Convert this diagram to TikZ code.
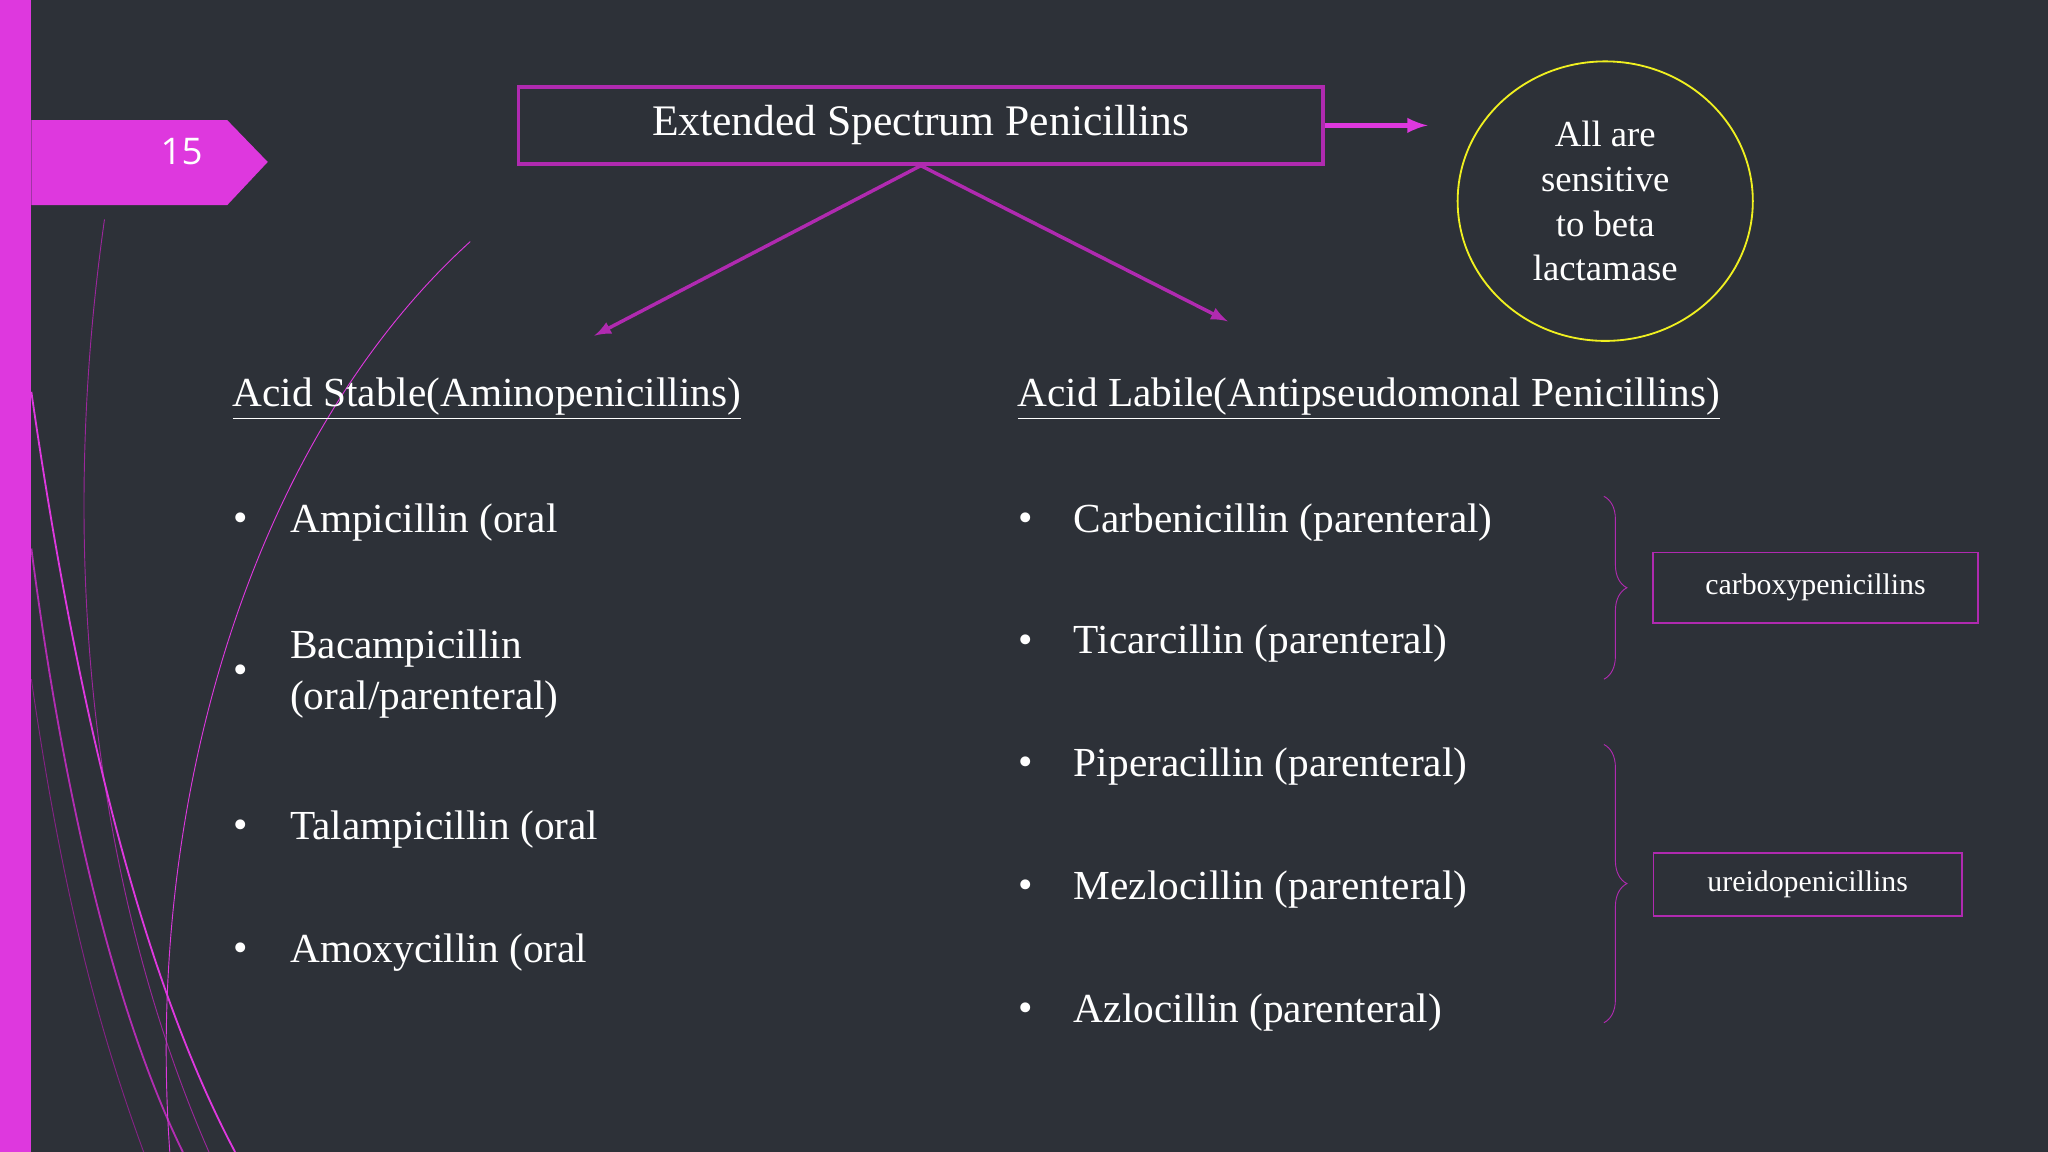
\documentclass[tikz,border=0pt]{standalone}
\usepackage{fontspec}
\setmainfont{Liberation Serif}
\setsansfont{Open Sans}
\usetikzlibrary{positioning}
\usetikzlibrary{shapes.geometric}
\usetikzlibrary{decorations.pathreplacing}
\definecolor{slate}{HTML}{2D3138}
\definecolor{pink}{HTML}{DE38DE}
\definecolor{plum}{HTML}{B02AB0}
\definecolor{lemon}{HTML}{F0F020}
\begin{document}
\begin{tikzpicture}[x=0.02cm,y=-0.02cm,
    every node/.style={text=white},
    item/.style={anchor=west,font=\fontsize{18}{22}\selectfont,align=left},
    dot/.style={anchor=center,font=\fontsize{18}{22}\selectfont},
    tagbox/.style={draw=plum,thick,font=\fontsize{13}{15}\selectfont,inner sep=6pt},
    brace/.style={draw=plum,thin,decorate,decoration={brace,amplitude=10pt}}]
\fill[slate] (0,0) rectangle (1568,882);
\useasboundingbox (0,0) rectangle (1568,882);

% left decoration
\draw[pink!70!black,thin] (80,168) .. controls (40,450) and (80,700) .. (160,882);
\draw[pink,thick] (24,300) .. controls (60,550) and (110,750) .. (180,882);
\draw[pink!80!black,thick] (24,420) .. controls (50,620) and (90,780) .. (140,882);
\draw[pink!60!black,thin] (24,520) .. controls (50,700) and (80,800) .. (110,882);
\draw[pink,thin] (360,185) .. controls (200,330) and (110,600) .. (130,882);
\fill[pink] (0,0) rectangle (24,882);
\fill[pink] (24,92) -- (174,92) -- (205,124) -- (174,157) -- (24,157) -- cycle;
\node[font=\sffamily\fontsize{16}{18}\selectfont] (num) at (139,116) {15};

% title and note
\node[draw=plum,line width=1.5pt,minimum width=616*0.02cm,minimum height=59*0.02cm,
  font=\fontsize{19}{22}\selectfont] (title) at (705,96) {Extended Spectrum Penicillins};
\node[draw=lemon,thick,ellipse,minimum width=226*0.02cm,minimum height=214*0.02cm,
  inner sep=0pt,align=center,font=\fontsize{16}{19.5}\selectfont] (note) at (1229,154)
  {All are\\sensitive\\to beta\\lactamase};
\draw[-latex,pink,line width=2pt] (title.east) -- (1093,96);
\coordinate (la) at (455,257);
\coordinate (ra) at (940,246);
\draw[-latex,plum,line width=1.5pt] (title.south) -- (la);
\draw[-latex,plum,line width=1.5pt] (title.south) -- (ra);

% left column
\node[item] (lh) at (172,305) {\underline{Acid Stable(Aminopenicillins)}};
\foreach \y/\t in {400/Ampicillin (oral/parenteral),
                   516/{Bacampicillin\\(oral/parenteral)},
                   635/Talampicillin (oral/parenteral),
                   729/Amoxycillin (oral/parenteral)}{
  \node[dot] at (184,\y) {•};
  \node[item] at (216,\y) {\t};
}
% right column
\node[item] (rh) at (773,305) {\underline{Acid Labile(Antipseudomonal Penicillins)}};
\foreach \y/\t in {400/Carbenicillin (parenteral),
                   493/Ticarcillin (parenteral),
                   587/Piperacillin (parenteral),
                   681/Mezlocillin (parenteral),
                   775/Azlocillin (parenteral)}{
  \node[dot] at (785,\y) {•};
  \node[item] at (816,\y) {\t};
}

% groups
\node[tagbox,minimum width=249*0.02cm,minimum height=54*0.02cm] (carb) at (1390,450) {carboxypenicillins};
\node[tagbox,minimum width=236*0.02cm,minimum height=48*0.02cm] (ureid) at (1384,677) {ureidopenicillins};
\draw[brace] (1228,380) -- (1228,520);
\draw[brace] (1228,570) -- (1228,783);
\end{tikzpicture}
\end{document}
